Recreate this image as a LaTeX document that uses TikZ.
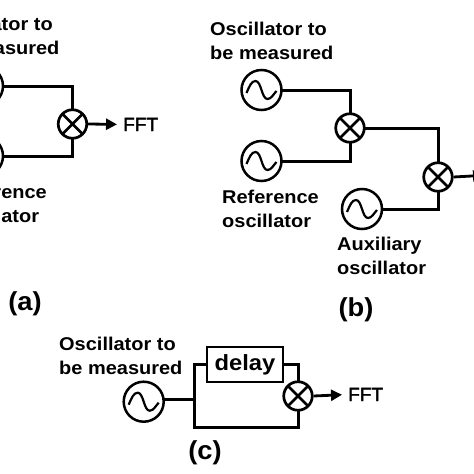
\documentclass[tikz,border=0pt]{standalone}
\usepackage{fontspec}
\setmainfont[FakeStretch=1.08]{Liberation Sans Bold}
\newfontfamily\boldlab[FakeStretch=1.05]{Liberation Sans Bold}
\newfontfamily\fftfont[FakeBold=2]{Liberation Sans}
\usetikzlibrary{arrows.meta}
\tikzset{
  x=1pt,y=-1pt,
  wire/.style={line width=3pt,line cap=rect,line join=miter},
  flow/.style={line width=2.8pt,shorten >=6pt,-{Triangle[length=11pt,width=11pt]}},
  osc/.style={circle,draw,line width=2.5pt,minimum size=40pt,inner sep=0pt,
    path picture={\draw[line width=2.2pt,shift={(path picture bounding box.center)}]
      (-15,3) .. controls (-12,-4) and (-10,-9) .. (-6,-9)
      .. controls (0,-9) and (0,9) .. (6,9)
      .. controls (10,9) and (12,4) .. (15,1);}},
  mix/.style={circle,draw,line width=2.7pt,minimum size=28.5pt,inner sep=0pt,
    path picture={\draw[line width=2.7pt,shift={(path picture bounding box.center)}]
      (-11,-11) -- (11,11) (-11,11) -- (11,-11);}},
  lbl/.style={anchor=north west,align=left,inner sep=0pt,font=\fontsize{18.5}{24.2}\selectfont},
  fftlbl/.style={anchor=base west,inner sep=0pt,font=\fontsize{19}{24}\selectfont\fftfont},
  tag/.style={inner sep=0pt,font=\fontsize{26}{26}\selectfont\boldlab},
  box/.style={draw,line width=2.7pt,minimum width=76pt,minimum height=35pt,inner sep=0pt,font=\fontsize{22}{22}\selectfont},
}
\begin{document}
\begin{tikzpicture}
\clip (0,0) rectangle (474,474);
% (a)
\node[osc] (ao1) at (-17,86) {};
\node[osc] (ao2) at (-17,156) {};
\node[mix] (am) at (72.5,124) {};
\draw[wire] (ao1.east) -| (am.north);
\draw[wire] (ao2.east) -| (am.south);
\node[lbl] (atxt1) at (-64,17) {Oscillator to\\be measured};
\node[lbl] (atxt2) at (-50,185) {Reference\\oscillator};
\node[fftlbl] (affta) at (123,131) {FFT};
\draw[flow] (am.east) -- (affta.west);
\node[tag] (atag) at (25,304) {(a)};
% (b)
\node[osc] (bo1) at (261.5,90) {};
\node[osc] (bo2) at (261.5,161) {};
\node[osc] (bo3) at (362,209) {};
\node[mix] (bm1) at (350,128) {};
\node[mix] (bm2) at (438,177) {};
\coordinate (bout) at (490,175);
\draw[wire] (bo1.east) -| (bm1.north);
\draw[wire] (bo2.east) -| (bm1.south);
\draw[wire] (bm1.east) -| (bm2.north);
\draw[wire] (bo3.east) -| (bm2.south);
\draw[flow] (bm2.east) -- (bout);
\node[lbl] (btxt1) at (210,22) {Oscillator to\\be measured};
\node[lbl] (btxt2) at (222,190) {Reference\\oscillator};
\node[lbl] (btxt3) at (337,237) {Auxiliary\\oscillator};
\node[tag] (btag) at (356,310) {(b)};
% (c)
\node[osc] (co) at (143.7,401.7) {};
\node[box] (cd) at (245,364.5) {delay};
\node[mix] (cm) at (298,396) {};
\coordinate (cj) at (194,399);
\draw[wire] (cj -| co.east) -- (cj);
\draw[wire] (cj) |- (cd.west);
\draw[wire] (cd.east) -| (cm.north);
\draw[wire] (cj) |- (298,427) -- (cm.south);
\node[lbl] (ctxt) at (59,337) {Oscillator to\\be measured};
\node[fftlbl] (cfft) at (348,401) {FFT};
\draw[flow] (cm.east) -- (cfft.west);
\node[tag] (ctag) at (205,453) {(c)};
\end{tikzpicture}
\end{document}
